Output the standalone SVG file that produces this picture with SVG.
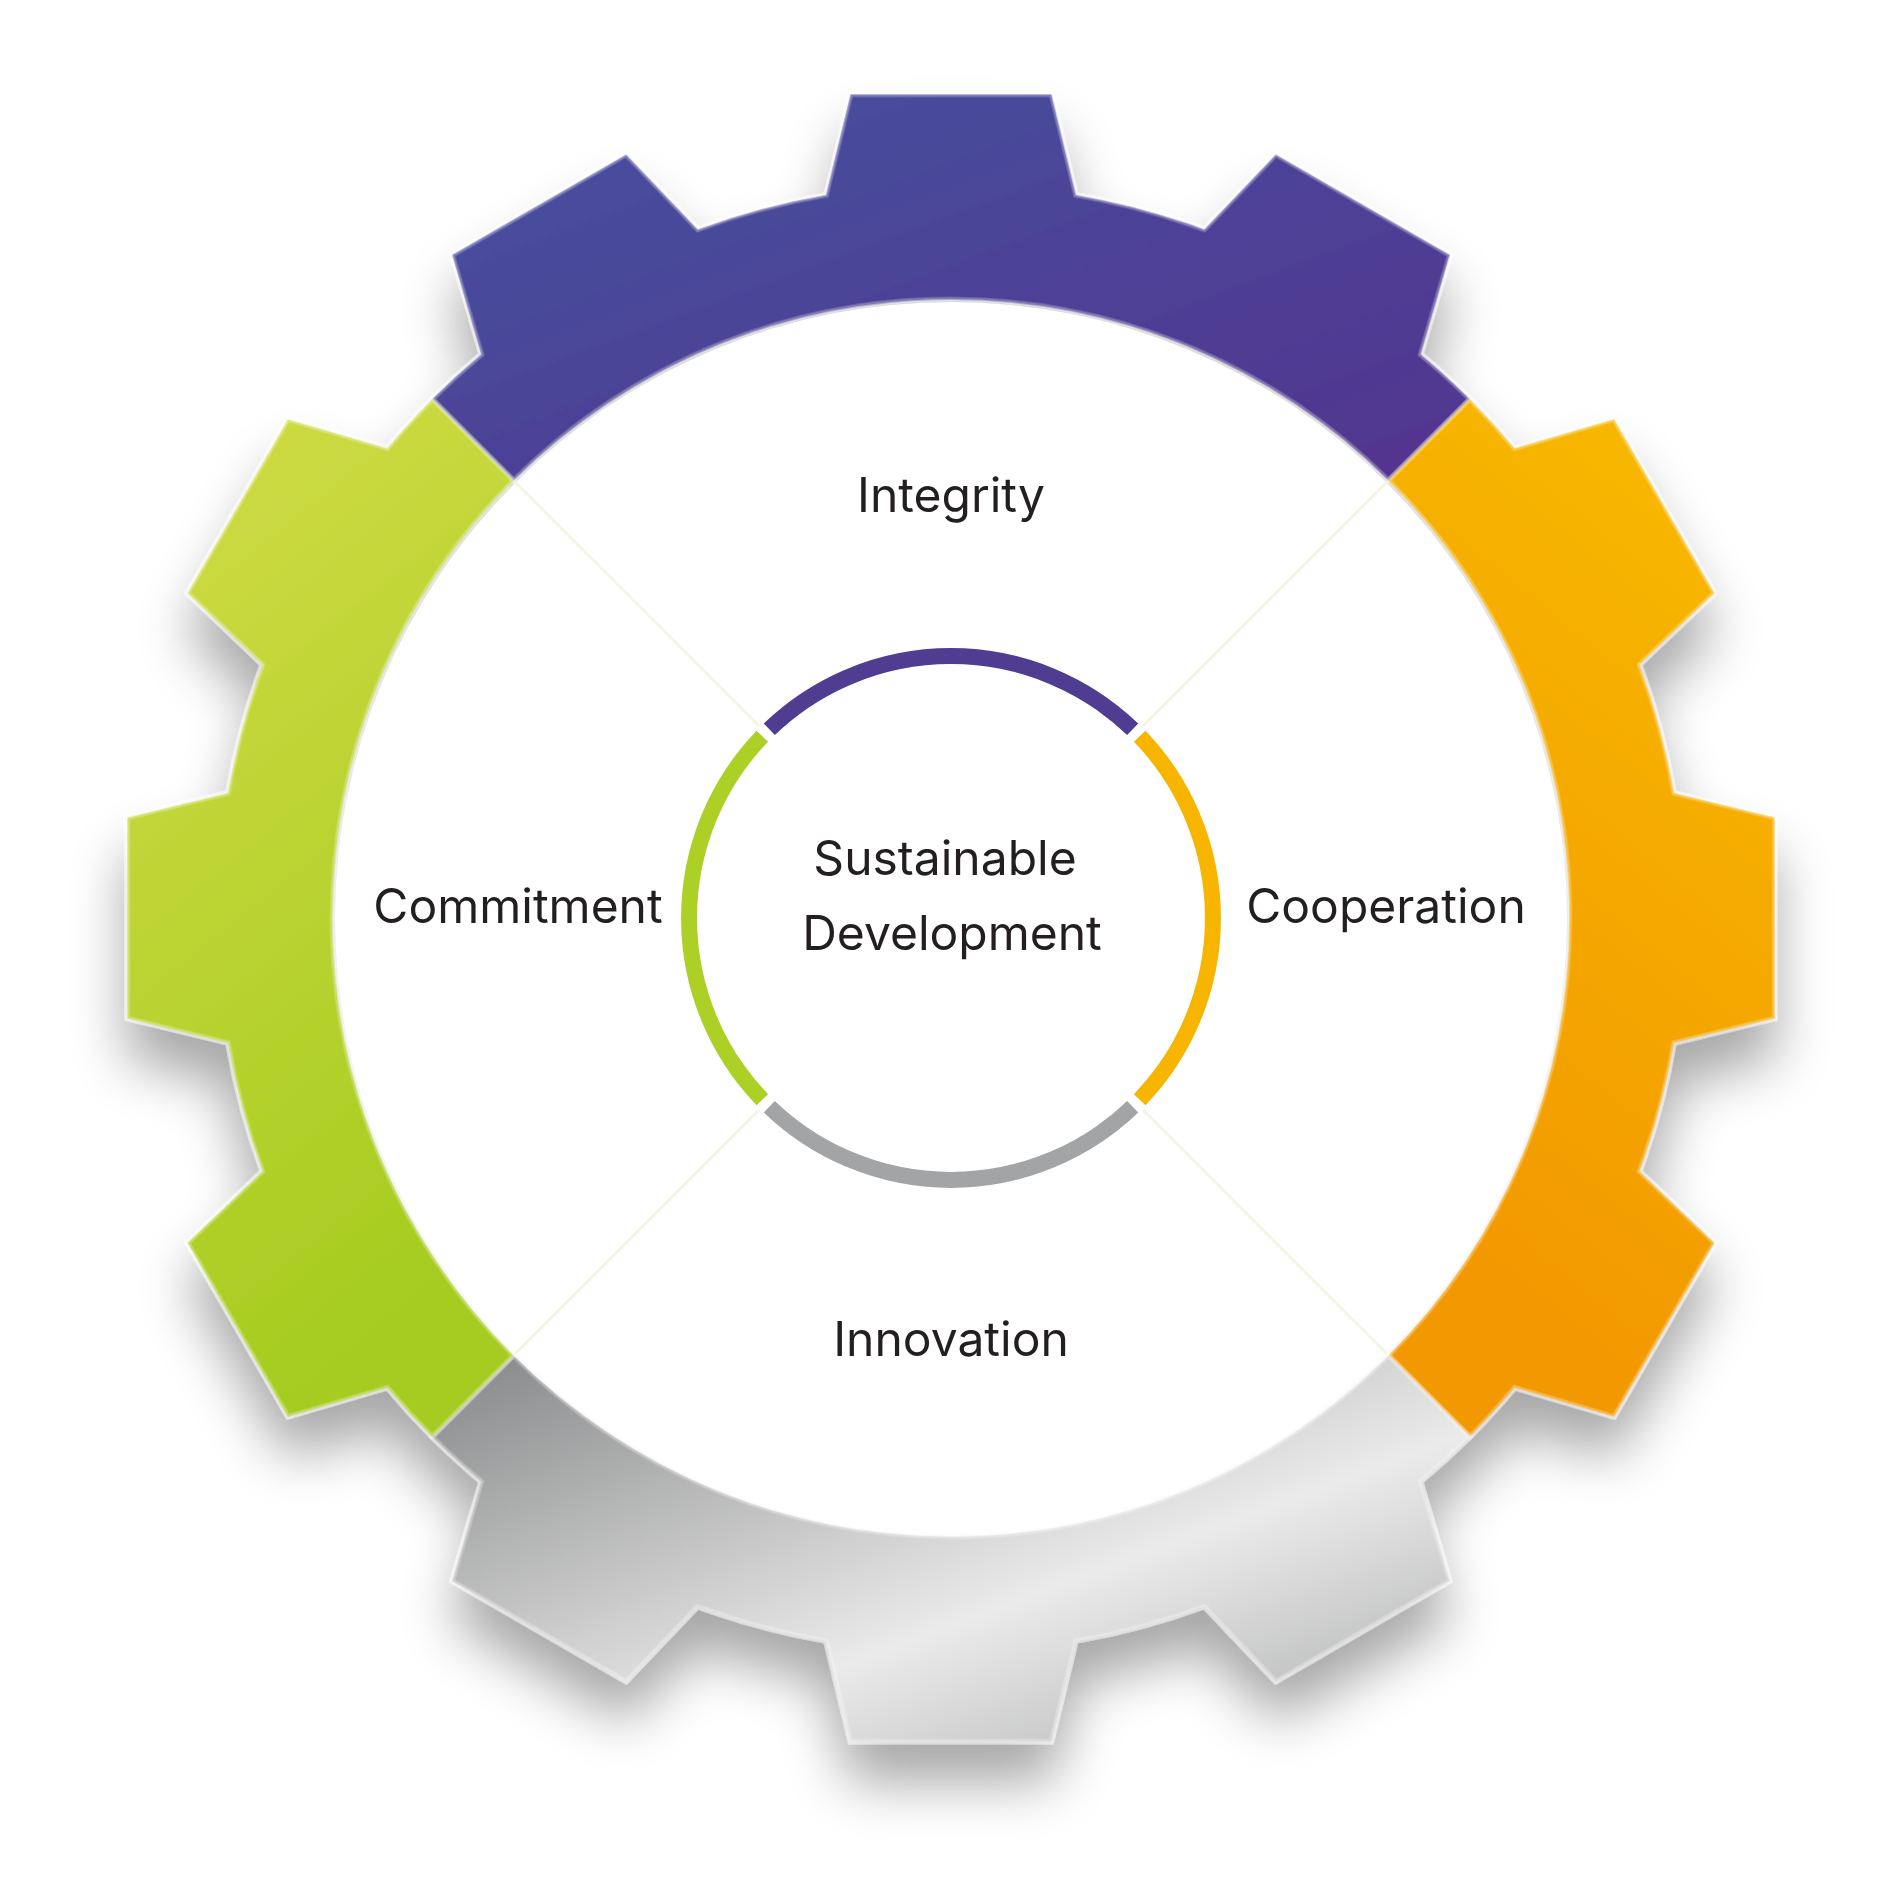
<svg xmlns="http://www.w3.org/2000/svg" width="1903" height="1903" viewBox="0 0 1903 1903">
<defs>
<filter id="sh" x="-20%" y="-20%" width="140%" height="140%"><feGaussianBlur in="SourceAlpha" stdDeviation="28"/><feOffset dx="0" dy="40"/><feComponentTransfer><feFuncA type="linear" slope="0.35"/></feComponentTransfer><feMerge><feMergeNode/><feMergeNode in="SourceGraphic"/></feMerge></filter>
<linearGradient id="gp" x1="0" y1="0" x2="1" y2="1"><stop offset="0" stop-color="#4652a0"/><stop offset="1" stop-color="#53348f"/></linearGradient>
<linearGradient id="go" x1="0" y1="0" x2="1" y2="0.3"><stop offset="0" stop-color="#f8bc00"/><stop offset="1" stop-color="#f29800"/></linearGradient>
<linearGradient id="gg" x1="1" y1="1" x2="0" y2="0"><stop offset="0" stop-color="#858687"/><stop offset="0.6" stop-color="#ebebeb"/><stop offset="1" stop-color="#a9aaab"/></linearGradient>
<linearGradient id="gl" x1="1" y1="0" x2="0" y2="0.3"><stop offset="0" stop-color="#d3dc47"/><stop offset="1" stop-color="#a6cc20"/></linearGradient>
<path id="q" d="M-441.9,-441.9 L-524,-524 A741,741 0 0 1 -474.3,-569.3 L-503.7,-669.7 L-328.1,-771.1 L-255.9,-695.4 A741,741 0 0 1 -126.1,-730.2 L-101.4,-831.9 L101.4,-831.9 L126.1,-730.2 A741,741 0 0 1 255.9,-695.4 L328.1,-771.1 L503.7,-669.7 L474.3,-569.3 A741,741 0 0 1 524,-524 L441.9,-441.9 A625,625 0 0 0 -441.9,-441.9 Z"/>
</defs>
<style>
.t{font-family:Inter,"Noto Sans","Liberation Sans",sans-serif;font-size:48px;fill:#231f20;text-anchor:middle}
.seg{stroke:#fff;stroke-opacity:0.3;stroke-width:5;stroke-linejoin:miter}
.ring{fill:none;stroke-width:16}
</style>
<g transform="translate(951,918) scale(0.99)" filter="url(#sh)">
<g id="integrity-seg"><use href="#q" fill="url(#gp)" class="seg"/></g>
<g id="cooperation-seg"><use href="#q" fill="url(#go)" class="seg" transform="rotate(90)"/></g>
<g id="innovation-seg"><use href="#q" fill="url(#gg)" class="seg" transform="rotate(180)"/></g>
<g id="commitment-seg"><use href="#q" fill="url(#gl)" class="seg" transform="rotate(270)"/></g>
</g>
<circle cx="951" cy="918" r="616" fill="#fff"/>
<g id="connectors" transform="translate(951,918)" stroke="#f3f6e2" stroke-width="3">
<line x1="-192" y1="-192" x2="-436" y2="-436"/>
<line x1="192" y1="-192" x2="436" y2="-436"/>
<line x1="192" y1="192" x2="436" y2="436"/>
<line x1="-192" y1="192" x2="-436" y2="436"/>
</g>
<g id="center" transform="translate(951,918)">
<path class="ring" stroke="#503d92" d="M-181.7,-188.7 A262,262 0 0 1 181.7,-188.7"/>
<path class="ring" stroke="#f7b500" d="M188.7,-181.7 A262,262 0 0 1 188.7,181.7"/>
<path class="ring" stroke="#a3a4a5" d="M181.7,188.7 A262,262 0 0 1 -181.7,188.7"/>
<path class="ring" stroke="#add027" d="M-188.7,181.7 A262,262 0 0 1 -188.7,-181.7"/>
<text class="t" x="-6" y="-43">Sustainable</text>
<text class="t" x="1" y="32">Development</text>
</g>
<g id="label-integrity"><text class="t" x="951" y="512">Integrity</text></g>
<g id="label-cooperation"><text class="t" x="1386" y="923">Cooperation</text></g>
<g id="label-innovation"><text class="t" x="951" y="1356">Innovation</text></g>
<g id="label-commitment"><text class="t" x="518" y="923">Commitment</text></g>
</svg>
